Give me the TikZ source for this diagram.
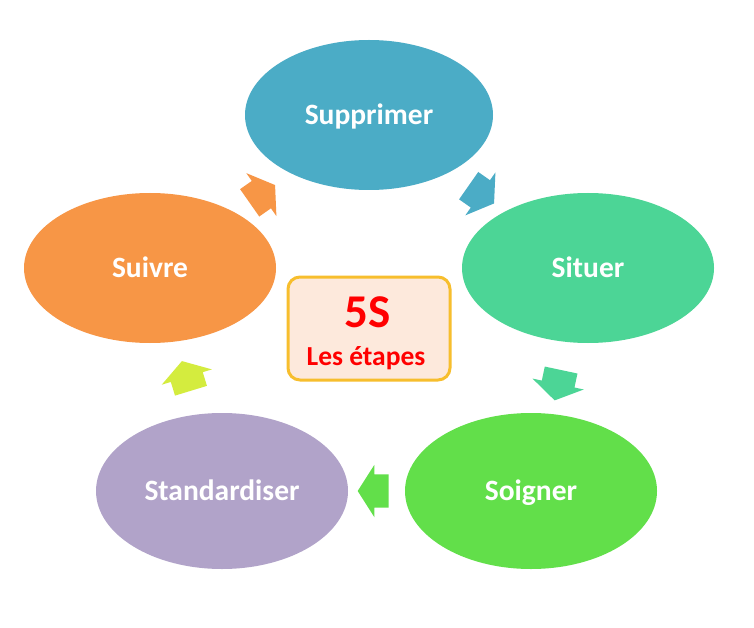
\documentclass[tikz,border=0pt]{standalone}
\usepackage{fontspec}
\setmainfont{Carlito}
\usetikzlibrary{shapes.geometric,shapes.arrows}
\definecolor{cBlue}{HTML}{4BACC6}
\definecolor{cTeal}{HTML}{4CD596}
\definecolor{cGreen}{HTML}{62DF4A}
\definecolor{cLime}{HTML}{D4EC3E}
\definecolor{cPurple}{HTML}{B1A3C9}
\definecolor{cOrange}{HTML}{F79646}
\definecolor{boxFill}{HTML}{FDE9DC}
\definecolor{boxLine}{HTML}{F7BE2D}
\definecolor{cRed}{HTML}{FF0000}
\begin{document}
\begin{tikzpicture}[x=1pt,y=-1pt,
  stage/.style={ellipse, draw=none, inner sep=0pt, text=white,
    font=\fontsize{29.5}{34}\selectfont\bfseries, text height=18.5pt, text depth=0pt},
  flow/.style={single arrow, draw=none, inner xsep=0pt, inner ysep=16.5pt, minimum height=31pt,
    single arrow head extend=9.5pt, single arrow tip angle=115},
  centerbox/.style={draw=boxLine, line width=3pt, fill=boxFill, rounded corners=12pt}
]
\fill[white] (0,0) rectangle (754,628);
\useasboundingbox (0,0) rectangle (754,628);

% arrows
\node[flow, fill=cBlue, rotate=-35] (a1) at (477,191.5) {};
\node[flow, fill=cTeal, rotate=-102] (a2) at (559,380) {};
\node[flow, fill=cGreen, rotate=180] (a3) at (378.5,491) {};
\node[flow, fill=cLime, rotate=107] (a4) at (188,381) {};
\node[flow, fill=cOrange, rotate=35] (a5) at (258,197) {};

% stages
\node[stage, fill=cBlue, minimum width=248pt, minimum height=150pt] (s1) at (369,115) {Supprimer};
\node[stage, fill=cTeal, minimum width=252pt, minimum height=150pt] (s2) at (588,268) {Situer};
\node[stage, fill=cGreen, minimum width=252pt, minimum height=156pt] (s3) at (531,491) {Soigner};
\node[stage, fill=cPurple, minimum width=252pt, minimum height=156pt] (s4) at (222,491) {Standardiser};
\node[stage, fill=cOrange, minimum width=252pt, minimum height=150pt] (s5) at (150,268) {Suivre};

% center box
\node[centerbox, minimum width=162pt, minimum height=103pt, inner sep=0pt] (box) at (369,328.5) {};
\node[anchor=base, text=cRed, font=\fontsize{47}{50}\selectfont\bfseries, inner sep=0pt] (t1) at (368,327) {5S};
\node[anchor=base, text=cRed, font=\fontsize{27.5}{32}\selectfont\bfseries, inner sep=0pt] (t2) at (366,365) {Les étapes};
\end{tikzpicture}
\end{document}
